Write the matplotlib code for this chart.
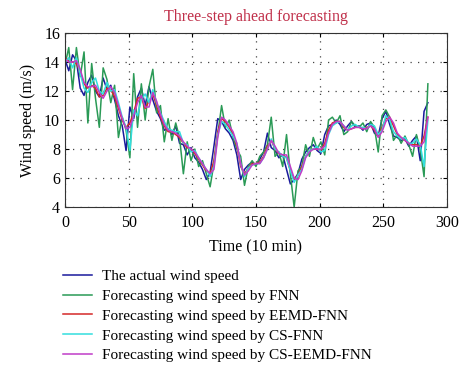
import matplotlib
matplotlib.use("Agg")
import matplotlib.pyplot as plt
import numpy as np

# wind speed (m/s), sampled every 3 steps of 10 min
actual = [14.2, 13.4, 14.5, 14.1, 12.2, 11.7, 12.6, 13.1, 12.0, 11.6, 12.9, 12.1,
          12.4, 11.4, 10.3, 9.6, 7.9, 10.9, 10.1, 11.6, 12.2, 11.0, 12.3, 11.4,
          10.6, 10.1, 9.3, 9.4, 9.0, 9.6, 8.4, 8.3, 7.6, 8.1, 7.4, 7.1,
          6.6, 5.9, 6.4, 8.2, 10.1, 9.9, 9.4, 9.1, 8.6, 7.6, 5.9, 6.6,
          6.9, 7.1, 6.9, 7.3, 7.8, 9.1, 8.1, 7.9, 7.4, 7.6, 6.6, 5.6,
          5.9, 6.3, 7.3, 7.8, 8.1, 8.3, 7.9, 7.7, 9.0, 9.6, 9.7, 10.0,
          9.7, 9.2, 9.6, 9.9, 9.5, 9.6, 9.3, 9.7, 9.8, 9.1, 8.9, 10.1,
          10.6, 9.7, 8.9, 8.8, 8.6, 8.7, 8.2, 8.6, 8.9, 7.2, 10.6, 11.2]
fnn = [13.8, 15.0, 12.1, 15.0, 13.0, 14.7, 9.8, 13.9, 11.5, 9.5, 13.6, 12.8,
       11.2, 12.4, 8.8, 10.2, 9.3, 7.4, 13.2, 9.5, 12.5, 10.0, 12.3, 13.5,
       10.5, 11.0, 8.5, 10.1, 8.6, 9.8, 8.8, 6.3, 8.5, 7.2, 8.0, 6.8,
       7.2, 6.3, 5.4, 7.0, 9.0, 11.0, 9.5, 10.0, 8.8, 8.0, 7.5, 5.5,
       6.8, 7.2, 6.8, 7.5, 7.8, 8.3, 10.2, 7.5, 7.8, 6.8, 9.0, 6.3,
       4.0, 6.5, 6.8, 8.3, 7.5, 8.8, 8.0, 8.5, 7.6, 10.0, 10.2, 9.8,
       10.3, 9.0, 9.2, 9.9, 9.6, 9.5, 9.8, 9.2, 9.9, 9.5, 7.8, 10.3,
       10.7, 10.2, 8.6, 9.0, 8.4, 8.9, 8.3, 7.5, 9.0, 8.0, 6.1, 12.5]
eemd_fnn = [14.3, 14.1, 14.0, 13.9, 13.3, 12.5, 12.2, 12.4, 12.2, 11.6, 11.7, 12.2,
            12.1, 11.6, 10.8, 10.0, 9.5, 9.8, 10.5, 11.5, 11.6, 10.8, 11.3, 11.8,
            11.0, 10.2, 9.6, 9.2, 9.2, 9.0, 8.8, 8.4, 8.1, 8.0, 7.7, 7.3,
            6.9, 6.5, 6.3, 7.2, 9.2, 10.1, 9.9, 9.5, 9.0, 8.2, 6.8, 6.3,
            6.7, 7.0, 7.0, 7.1, 7.5, 8.2, 8.6, 8.0, 7.7, 7.6, 7.4, 6.5,
            5.9, 6.2, 6.8, 7.5, 7.9, 8.0, 8.0, 7.9, 8.4, 9.3, 9.8, 9.9,
            9.9, 9.5, 9.3, 9.4, 9.5, 9.5, 9.4, 9.5, 9.6, 9.3, 8.9, 9.5,
            10.1, 10.2, 9.6, 9.0, 8.8, 8.6, 8.4, 8.3, 8.3, 8.2, 8.9, 10.2]
cs_fnn = [14.0, 14.3, 13.6, 14.3, 13.2, 12.2, 11.9, 12.6, 12.9, 12.0, 11.8, 12.6,
          12.0, 12.1, 11.2, 10.2, 9.5, 7.9, 10.7, 10.3, 11.4, 11.8, 11.2, 12.1,
          11.2, 10.5, 9.9, 9.4, 9.3, 9.2, 9.2, 8.4, 8.3, 7.8, 7.9, 7.4,
          7.0, 6.6, 6.1, 6.8, 9.0, 9.9, 9.7, 9.3, 8.9, 8.4, 7.0, 6.1,
          6.7, 6.9, 7.0, 7.0, 7.4, 8.0, 8.7, 8.0, 7.8, 7.5, 7.4, 6.5,
          5.7, 6.2, 6.6, 7.5, 7.9, 8.0, 8.2, 7.8, 7.9, 9.0, 9.6, 9.8,
          9.9, 9.6, 9.3, 9.6, 9.7, 9.5, 9.5, 9.4, 9.7, 9.6, 9.0, 9.3,
          10.3, 10.0, 9.2, 8.9, 8.7, 8.8, 8.4, 8.4, 8.7, 8.3, 6.8, 10.0]
cs_eemd_fnn = [14.2, 14.0, 14.0, 14.1, 13.5, 12.6, 12.3, 12.3, 12.4, 11.9, 11.5, 12.0,
               12.3, 11.9, 11.0, 10.1, 9.4, 9.5, 10.3, 11.2, 11.7, 10.9, 10.9, 11.9,
               11.3, 10.4, 9.7, 9.3, 9.2, 9.1, 8.9, 8.5, 8.2, 8.0, 7.8, 7.4,
               7.0, 6.6, 6.3, 6.6, 8.8, 10.2, 10.0, 9.6, 9.2, 8.4, 7.0, 6.2,
               6.5, 6.9, 7.0, 7.0, 7.4, 8.0, 8.6, 8.2, 7.7, 7.6, 7.6, 6.8,
               6.0, 5.9, 6.5, 7.4, 7.8, 8.0, 8.0, 8.0, 8.2, 9.1, 9.7, 9.9,
               9.9, 9.6, 9.3, 9.4, 9.5, 9.5, 9.4, 9.4, 9.6, 9.4, 8.8, 9.2,
               9.9, 10.2, 9.8, 9.1, 8.8, 8.6, 8.4, 8.2, 8.2, 8.2, 8.5, 10.2]

series = [
    (actual, "The actual wind speed", "#1a1a9c"),
    (fnn, "Forecasting wind speed by FNN", "#2a9a56"),
    (eemd_fnn, "Forecasting wind speed by EEMD-FNN", "#d42828"),
    (cs_fnn, "Forecasting wind speed by CS-FNN", "#33dede"),
    (cs_eemd_fnn, "Forecasting wind speed by CS-EEMD-FNN", "#c03cc8"),
]

plt.rcParams['font.family'] = ['Liberation Serif', 'DejaVu Serif']

fig = plt.figure(figsize=(4.74, 3.8), dpi=100)
ax = fig.add_axes([0.137, 0.455, 0.806, 0.458])

for vals, label, color in series:
    t = np.arange(len(vals)) * 3
    ax.plot(t, vals, color=color, lw=1.1, label=label)

ax.set_xlim(0, 300)
ax.set_ylim(4, 16)
ax.set_xticks(range(0, 301, 50))
ax.set_yticks(range(4, 17, 2))
ax.tick_params(direction='in', top=True, right=True, labelsize=11.5, length=3)
ax.tick_params(axis='x', pad=6)
ax.grid(True, linestyle=(0, (1, 5)), color='#444444', lw=0.9)
for s in ax.spines.values():
    s.set_color('#333333')
ax.set_xlabel("Time (10 min)", fontsize=11.5, labelpad=6)
ax.set_ylabel("Wind speed (m/s)", fontsize=11.5, labelpad=6)
ax.set_title("Three-step ahead forecasting", color='#c0304a', fontsize=11.5, pad=9)

handles, labels = ax.get_legend_handles_labels()
fig.legend(handles, labels, loc='upper left', bbox_to_anchor=(0.121, 0.307),
           frameon=False, fontsize=11, handlelength=1.9, labelspacing=0.4,
           handletextpad=0.6, borderaxespad=0)

fig.savefig("out.png", dpi=100)
